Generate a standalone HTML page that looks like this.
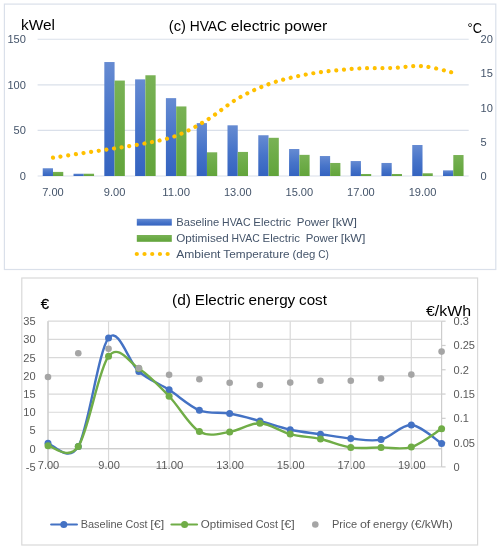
<!DOCTYPE html>
<html lang="en">
<head>
<meta charset="utf-8">
<title>HVAC electric power and electric energy cost</title>
<style>
html,body{margin:0;padding:0;background:#fff;}
body{width:499px;height:550px;overflow:hidden;font-family:"Liberation Sans",sans-serif;}
svg{display:block;}
text{font-family:"Liberation Sans",sans-serif;}
.a1{fill:#44546a;font-size:10.7px;}
.a2{fill:#595959;font-size:10.7px;}
.t{fill:#000;font-size:14.4px;}
</style>
</head>
<body>
<svg width="499" height="550" viewBox="0 0 499 550">
<defs>
<linearGradient id="gb" x1="0" y1="0" x2="0" y2="1"><stop offset="0" stop-color="#668bd2"/><stop offset="0.5" stop-color="#4774c9"/><stop offset="1" stop-color="#3463c0"/></linearGradient>
<linearGradient id="gg" x1="0" y1="0" x2="0" y2="1"><stop offset="0" stop-color="#79b255"/><stop offset="0.5" stop-color="#6cab47"/><stop offset="1" stop-color="#62a43b"/></linearGradient>
</defs>
<rect x="0" y="0" width="499" height="550" fill="#fff"/>

<g id="chart-c">
<rect x="4.4" y="4.1" width="491.4" height="265.4" fill="#fff" stroke="#dae0ea" stroke-width="1.2"/>
<line x1="37.6" y1="176" x2="468.7" y2="176" stroke="#dae0ea" stroke-width="1.2"/>
<line x1="37.6" y1="130.42" x2="468.7" y2="130.42" stroke="#dae0ea" stroke-width="1.2"/>
<line x1="37.6" y1="84.83" x2="468.7" y2="84.83" stroke="#dae0ea" stroke-width="1.2"/>
<line x1="37.6" y1="39.25" x2="468.7" y2="39.25" stroke="#dae0ea" stroke-width="1.2"/>
<rect x="42.73" y="168.25" width="10.26" height="7.75" fill="url(#gb)"/>
<rect x="53" y="171.9" width="10.26" height="4.1" fill="url(#gg)"/>
<rect x="73.52" y="173.72" width="10.26" height="2.28" fill="url(#gb)"/>
<rect x="83.79" y="173.72" width="10.26" height="2.28" fill="url(#gg)"/>
<rect x="104.32" y="62.04" width="10.26" height="113.96" fill="url(#gb)"/>
<rect x="114.58" y="80.55" width="10.26" height="95.45" fill="url(#gg)"/>
<rect x="135.11" y="79.36" width="10.26" height="96.64" fill="url(#gb)"/>
<rect x="145.38" y="75.26" width="10.26" height="100.74" fill="url(#gg)"/>
<rect x="165.9" y="98.14" width="10.26" height="77.86" fill="url(#gb)"/>
<rect x="176.17" y="106.44" width="10.26" height="69.56" fill="url(#gg)"/>
<rect x="196.7" y="123.12" width="10.26" height="52.88" fill="url(#gb)"/>
<rect x="206.96" y="152.3" width="10.26" height="23.7" fill="url(#gg)"/>
<rect x="227.49" y="125.31" width="10.26" height="50.69" fill="url(#gb)"/>
<rect x="237.75" y="151.93" width="10.26" height="24.07" fill="url(#gg)"/>
<rect x="258.28" y="135.25" width="10.26" height="40.75" fill="url(#gb)"/>
<rect x="268.55" y="137.8" width="10.26" height="38.2" fill="url(#gg)"/>
<rect x="289.07" y="149.01" width="10.26" height="26.99" fill="url(#gb)"/>
<rect x="299.34" y="154.85" width="10.26" height="21.15" fill="url(#gg)"/>
<rect x="319.87" y="156.03" width="10.26" height="19.97" fill="url(#gb)"/>
<rect x="330.13" y="162.96" width="10.26" height="13.04" fill="url(#gg)"/>
<rect x="350.66" y="161.05" width="10.26" height="14.95" fill="url(#gb)"/>
<rect x="360.93" y="173.99" width="10.26" height="2.01" fill="url(#gg)"/>
<rect x="381.45" y="162.96" width="10.26" height="13.04" fill="url(#gb)"/>
<rect x="391.72" y="173.99" width="10.26" height="2.01" fill="url(#gg)"/>
<rect x="412.25" y="145" width="10.26" height="31" fill="url(#gb)"/>
<rect x="422.51" y="173.26" width="10.26" height="2.73" fill="url(#gg)"/>
<rect x="443.04" y="170.35" width="10.26" height="5.65" fill="url(#gb)"/>
<rect x="453.3" y="155.03" width="10.26" height="20.97" fill="url(#gg)"/>
<path d="M53,157.7 C58.13,156.92 73.52,154.55 83.79,153 C94.05,151.45 104.32,150.02 114.58,148.4 C124.85,146.78 135.11,145.4 145.38,143.3 C155.64,141.2 165.9,139.68 176.17,135.8 C186.43,131.92 196.7,126.22 206.96,120 C217.22,113.78 227.49,104.47 237.75,98.5 C248.02,92.53 258.28,87.98 268.55,84.2 C278.81,80.42 289.07,78 299.34,75.8 C309.6,73.6 319.87,72.23 330.13,71 C340.4,69.77 350.66,68.9 360.93,68.4 C371.19,67.9 381.45,68.37 391.72,68 C401.98,67.63 412.25,65.42 422.51,66.2 C432.78,66.98 448.17,71.62 453.3,72.7" fill="none" stroke="#ffc000" stroke-width="4.2" stroke-linecap="round" stroke-dasharray="0.01 7.7"/>
<text class="a1" x="19.75" y="179.9" textLength="6.15" lengthAdjust="spacingAndGlyphs">0</text>
<text class="a1" x="13.59" y="134.32" textLength="12.31" lengthAdjust="spacingAndGlyphs">50</text>
<text class="a1" x="7.44" y="88.73" textLength="18.46" lengthAdjust="spacingAndGlyphs">100</text>
<text class="a1" x="7.44" y="43.15" textLength="18.46" lengthAdjust="spacingAndGlyphs">150</text>
<text class="a1" x="480.6" y="179.9" textLength="6.15" lengthAdjust="spacingAndGlyphs">0</text>
<text class="a1" x="480.6" y="145.71" textLength="6.15" lengthAdjust="spacingAndGlyphs">5</text>
<text class="a1" x="480.6" y="111.53" textLength="12.31" lengthAdjust="spacingAndGlyphs">10</text>
<text class="a1" x="480.6" y="77.34" textLength="12.31" lengthAdjust="spacingAndGlyphs">15</text>
<text class="a1" x="480.6" y="43.15" textLength="12.31" lengthAdjust="spacingAndGlyphs">20</text>
<text class="a1" x="42.23" y="195.6" textLength="21.53" lengthAdjust="spacingAndGlyphs">7.00</text>
<text class="a1" x="103.82" y="195.6" textLength="21.53" lengthAdjust="spacingAndGlyphs">9.00</text>
<text class="a1" x="162.33" y="195.6" textLength="27.68" lengthAdjust="spacingAndGlyphs">11.00</text>
<text class="a1" x="223.91" y="195.6" textLength="27.68" lengthAdjust="spacingAndGlyphs">13.00</text>
<text class="a1" x="285.5" y="195.6" textLength="27.68" lengthAdjust="spacingAndGlyphs">15.00</text>
<text class="a1" x="347.09" y="195.6" textLength="27.68" lengthAdjust="spacingAndGlyphs">17.00</text>
<text class="a1" x="408.67" y="195.6" textLength="27.68" lengthAdjust="spacingAndGlyphs">19.00</text>
<text class="t" y="30.2"><tspan x="21" textLength="34" lengthAdjust="spacingAndGlyphs">kWel</tspan></text>
<text class="t" y="30.7"><tspan x="168.8" textLength="17.11" lengthAdjust="spacingAndGlyphs">(c)</tspan> <tspan x="189.67" textLength="37.37" lengthAdjust="spacingAndGlyphs">HVAC</tspan> <tspan x="230.8" textLength="49.6" lengthAdjust="spacingAndGlyphs">electric</tspan> <tspan x="284.16" textLength="43.24" lengthAdjust="spacingAndGlyphs">power</tspan></text>
<text class="t" y="33"><tspan x="467.6" textLength="14.4" lengthAdjust="spacingAndGlyphs">°C</tspan></text>
<rect x="136.8" y="218.8" width="35" height="6.8" fill="url(#gb)"/>
<text class="a1" y="225.7"><tspan x="176.2" textLength="42.98" lengthAdjust="spacingAndGlyphs">Baseline</tspan> <tspan x="222.04" textLength="28.47" lengthAdjust="spacingAndGlyphs">HVAC</tspan> <tspan x="253.37" textLength="37.67" lengthAdjust="spacingAndGlyphs">Electric</tspan> <tspan x="296.77" textLength="32.58" lengthAdjust="spacingAndGlyphs">Power</tspan> <tspan x="332.21" textLength="24.79" lengthAdjust="spacingAndGlyphs">[kW]</tspan></text>
<rect x="136.8" y="235" width="35" height="6.8" fill="url(#gg)"/>
<text class="a1" y="241.6"><tspan x="176.2" textLength="52.53" lengthAdjust="spacingAndGlyphs">Optimised</tspan> <tspan x="231.57" textLength="28.23" lengthAdjust="spacingAndGlyphs">HVAC</tspan> <tspan x="262.64" textLength="37.35" lengthAdjust="spacingAndGlyphs">Electric</tspan> <tspan x="305.67" textLength="32.31" lengthAdjust="spacingAndGlyphs">Power</tspan> <tspan x="340.82" textLength="24.58" lengthAdjust="spacingAndGlyphs">[kW]</tspan></text>
<path d="M136.8,254 H168" fill="none" stroke="#ffc000" stroke-width="4.2" stroke-linecap="round" stroke-dasharray="0.01 7.7"/>
<text class="a1" y="257.6"><tspan x="176.2" textLength="44.29" lengthAdjust="spacingAndGlyphs">Ambient</tspan> <tspan x="223.37" textLength="66.28" lengthAdjust="spacingAndGlyphs">Temperature</tspan> <tspan x="292.52" textLength="22.86" lengthAdjust="spacingAndGlyphs">(deg</tspan> <tspan x="318.26" textLength="10.64" lengthAdjust="spacingAndGlyphs">C)</tspan></text>
</g>
<g id="chart-d">
<rect x="21.8" y="278" width="455.8" height="267" fill="#fff" stroke="#d9d9d9" stroke-width="1.2"/>
<line x1="48" y1="466.9" x2="441.6" y2="466.9" stroke="#d9d9d9" stroke-width="1.2"/>
<line x1="48" y1="448.69" x2="441.6" y2="448.69" stroke="#d9d9d9" stroke-width="1.2"/>
<line x1="48" y1="430.47" x2="441.6" y2="430.47" stroke="#d9d9d9" stroke-width="1.2"/>
<line x1="48" y1="412.26" x2="441.6" y2="412.26" stroke="#d9d9d9" stroke-width="1.2"/>
<line x1="48" y1="394.05" x2="441.6" y2="394.05" stroke="#d9d9d9" stroke-width="1.2"/>
<line x1="48" y1="375.84" x2="441.6" y2="375.84" stroke="#d9d9d9" stroke-width="1.2"/>
<line x1="48" y1="357.62" x2="441.6" y2="357.62" stroke="#d9d9d9" stroke-width="1.2"/>
<line x1="48" y1="339.41" x2="441.6" y2="339.41" stroke="#d9d9d9" stroke-width="1.2"/>
<line x1="48" y1="321.2" x2="441.6" y2="321.2" stroke="#d9d9d9" stroke-width="1.2"/>
<line x1="48" y1="321.2" x2="48" y2="466.9" stroke="#d9d9d9" stroke-width="1.2"/>
<line x1="108.55" y1="321.2" x2="108.55" y2="466.9" stroke="#d9d9d9" stroke-width="1.2"/>
<line x1="169.11" y1="321.2" x2="169.11" y2="466.9" stroke="#d9d9d9" stroke-width="1.2"/>
<line x1="229.66" y1="321.2" x2="229.66" y2="466.9" stroke="#d9d9d9" stroke-width="1.2"/>
<line x1="290.22" y1="321.2" x2="290.22" y2="466.9" stroke="#d9d9d9" stroke-width="1.2"/>
<line x1="350.77" y1="321.2" x2="350.77" y2="466.9" stroke="#d9d9d9" stroke-width="1.2"/>
<line x1="411.32" y1="321.2" x2="411.32" y2="466.9" stroke="#d9d9d9" stroke-width="1.2"/>
<line x1="48" y1="321.2" x2="48" y2="466.9" stroke="#cdcdcd" stroke-width="1.2"/>
<line x1="441.6" y1="321.2" x2="441.6" y2="466.9" stroke="#cdcdcd" stroke-width="1.2"/>
<line x1="48" y1="448.69" x2="441.6" y2="448.69" stroke="#cdcdcd" stroke-width="1.2"/>
<line x1="441.6" y1="466.9" x2="445.6" y2="466.9" stroke="#cdcdcd" stroke-width="1.2"/>
<line x1="441.6" y1="442.62" x2="445.6" y2="442.62" stroke="#cdcdcd" stroke-width="1.2"/>
<line x1="441.6" y1="418.33" x2="445.6" y2="418.33" stroke="#cdcdcd" stroke-width="1.2"/>
<line x1="441.6" y1="394.05" x2="445.6" y2="394.05" stroke="#cdcdcd" stroke-width="1.2"/>
<line x1="441.6" y1="369.77" x2="445.6" y2="369.77" stroke="#cdcdcd" stroke-width="1.2"/>
<line x1="441.6" y1="345.48" x2="445.6" y2="345.48" stroke="#cdcdcd" stroke-width="1.2"/>
<line x1="441.6" y1="321.2" x2="445.6" y2="321.2" stroke="#cdcdcd" stroke-width="1.2"/>
<path d="M48,443.33 C53.05,443.86 68.18,464.06 78.28,446.5 C88.37,428.94 98.46,350.46 108.55,337.96 C118.65,325.45 128.74,362.82 138.83,371.47 C148.92,380.12 159.02,383.4 169.11,389.86 C179.2,396.33 189.29,406.31 199.38,410.26 C209.48,414.21 219.57,411.75 229.66,413.54 C239.75,415.33 249.85,418.3 259.94,421 C270.03,423.71 280.12,427.54 290.22,429.75 C300.31,431.95 310.4,432.77 320.49,434.23 C330.58,435.68 340.68,437.6 350.77,438.49 C360.86,439.38 370.95,441.83 381.05,439.58 C391.14,437.34 401.23,424.34 411.32,425.01 C421.42,425.68 436.55,440.49 441.6,443.59" fill="none" stroke="#4472c4" stroke-width="2.4" stroke-linecap="round" stroke-linejoin="round"/>
<circle cx="48" cy="443.33" r="3.5" fill="#4472c4"/>
<circle cx="78.28" cy="446.5" r="3.5" fill="#4472c4"/>
<circle cx="108.55" cy="337.96" r="3.5" fill="#4472c4"/>
<circle cx="138.83" cy="371.47" r="3.5" fill="#4472c4"/>
<circle cx="169.11" cy="389.86" r="3.5" fill="#4472c4"/>
<circle cx="199.38" cy="410.26" r="3.5" fill="#4472c4"/>
<circle cx="229.66" cy="413.54" r="3.5" fill="#4472c4"/>
<circle cx="259.94" cy="421" r="3.5" fill="#4472c4"/>
<circle cx="290.22" cy="429.75" r="3.5" fill="#4472c4"/>
<circle cx="320.49" cy="434.23" r="3.5" fill="#4472c4"/>
<circle cx="350.77" cy="438.49" r="3.5" fill="#4472c4"/>
<circle cx="381.05" cy="439.58" r="3.5" fill="#4472c4"/>
<circle cx="411.32" cy="425.01" r="3.5" fill="#4472c4"/>
<circle cx="441.6" cy="443.59" r="3.5" fill="#4472c4"/>
<path d="M48,445.77 C53.05,445.89 68.18,461.41 78.28,446.5 C88.37,431.6 98.46,369.34 108.55,356.35 C118.65,343.36 128.74,361.9 138.83,368.55 C148.92,375.2 159.02,385.73 169.11,396.24 C179.2,406.74 189.29,425.62 199.38,431.57 C209.48,437.52 219.57,433.33 229.66,431.93 C239.75,430.54 249.85,422.83 259.94,423.19 C270.03,423.55 280.12,431.48 290.22,434.12 C300.31,436.76 310.4,436.82 320.49,439.03 C330.58,441.25 340.68,446.02 350.77,447.41 C360.86,448.81 370.95,447.47 381.05,447.41 C391.14,447.35 401.23,450.17 411.32,447.05 C421.42,443.92 436.55,431.72 441.6,428.65" fill="none" stroke="#70ad47" stroke-width="2.4" stroke-linecap="round" stroke-linejoin="round"/>
<circle cx="48" cy="445.77" r="3.5" fill="#70ad47"/>
<circle cx="78.28" cy="446.5" r="3.5" fill="#70ad47"/>
<circle cx="108.55" cy="356.35" r="3.5" fill="#70ad47"/>
<circle cx="138.83" cy="368.55" r="3.5" fill="#70ad47"/>
<circle cx="169.11" cy="396.24" r="3.5" fill="#70ad47"/>
<circle cx="199.38" cy="431.57" r="3.5" fill="#70ad47"/>
<circle cx="229.66" cy="431.93" r="3.5" fill="#70ad47"/>
<circle cx="259.94" cy="423.19" r="3.5" fill="#70ad47"/>
<circle cx="290.22" cy="434.12" r="3.5" fill="#70ad47"/>
<circle cx="320.49" cy="439.03" r="3.5" fill="#70ad47"/>
<circle cx="350.77" cy="447.41" r="3.5" fill="#70ad47"/>
<circle cx="381.05" cy="447.41" r="3.5" fill="#70ad47"/>
<circle cx="411.32" cy="447.05" r="3.5" fill="#70ad47"/>
<circle cx="441.6" cy="428.65" r="3.5" fill="#70ad47"/>
<circle cx="48" cy="377" r="3.3" fill="#a5a5a5"/>
<circle cx="78.28" cy="353.2" r="3.3" fill="#a5a5a5"/>
<circle cx="108.55" cy="348.8" r="3.3" fill="#a5a5a5"/>
<circle cx="138.83" cy="368.1" r="3.3" fill="#a5a5a5"/>
<circle cx="169.11" cy="374.7" r="3.3" fill="#a5a5a5"/>
<circle cx="199.38" cy="379.2" r="3.3" fill="#a5a5a5"/>
<circle cx="229.66" cy="382.7" r="3.3" fill="#a5a5a5"/>
<circle cx="259.94" cy="385" r="3.3" fill="#a5a5a5"/>
<circle cx="290.22" cy="382.6" r="3.3" fill="#a5a5a5"/>
<circle cx="320.49" cy="380.7" r="3.3" fill="#a5a5a5"/>
<circle cx="350.77" cy="380.7" r="3.3" fill="#a5a5a5"/>
<circle cx="381.05" cy="378.5" r="3.3" fill="#a5a5a5"/>
<circle cx="411.32" cy="374.6" r="3.3" fill="#a5a5a5"/>
<circle cx="441.6" cy="351.6" r="3.3" fill="#a5a5a5"/>
<text class="a2" x="25.83" y="470.8" textLength="9.87" lengthAdjust="spacingAndGlyphs">-5</text>
<text class="a2" x="29.55" y="452.59" textLength="6.15" lengthAdjust="spacingAndGlyphs">0</text>
<text class="a2" x="29.55" y="434.37" textLength="6.15" lengthAdjust="spacingAndGlyphs">5</text>
<text class="a2" x="23.39" y="416.16" textLength="12.31" lengthAdjust="spacingAndGlyphs">10</text>
<text class="a2" x="23.39" y="397.95" textLength="12.31" lengthAdjust="spacingAndGlyphs">15</text>
<text class="a2" x="23.39" y="379.74" textLength="12.31" lengthAdjust="spacingAndGlyphs">20</text>
<text class="a2" x="23.39" y="361.52" textLength="12.31" lengthAdjust="spacingAndGlyphs">25</text>
<text class="a2" x="23.39" y="343.31" textLength="12.31" lengthAdjust="spacingAndGlyphs">30</text>
<text class="a2" x="23.39" y="325.1" textLength="12.31" lengthAdjust="spacingAndGlyphs">35</text>
<text class="a2" x="453.5" y="470.8" textLength="6.15" lengthAdjust="spacingAndGlyphs">0</text>
<text class="a2" x="453.5" y="446.52" textLength="21.53" lengthAdjust="spacingAndGlyphs">0.05</text>
<text class="a2" x="453.5" y="422.23" textLength="15.37" lengthAdjust="spacingAndGlyphs">0.1</text>
<text class="a2" x="453.5" y="397.95" textLength="21.53" lengthAdjust="spacingAndGlyphs">0.15</text>
<text class="a2" x="453.5" y="373.67" textLength="15.37" lengthAdjust="spacingAndGlyphs">0.2</text>
<text class="a2" x="453.5" y="349.38" textLength="21.53" lengthAdjust="spacingAndGlyphs">0.25</text>
<text class="a2" x="453.5" y="325.1" textLength="15.37" lengthAdjust="spacingAndGlyphs">0.3</text>
<text class="a2" x="37.74" y="468.6" textLength="21.53" lengthAdjust="spacingAndGlyphs">7.00</text>
<text class="a2" x="98.29" y="468.6" textLength="21.53" lengthAdjust="spacingAndGlyphs">9.00</text>
<text class="a2" x="155.77" y="468.6" textLength="27.68" lengthAdjust="spacingAndGlyphs">11.00</text>
<text class="a2" x="216.32" y="468.6" textLength="27.68" lengthAdjust="spacingAndGlyphs">13.00</text>
<text class="a2" x="276.88" y="468.6" textLength="27.68" lengthAdjust="spacingAndGlyphs">15.00</text>
<text class="a2" x="337.43" y="468.6" textLength="27.68" lengthAdjust="spacingAndGlyphs">17.00</text>
<text class="a2" x="397.98" y="468.6" textLength="27.68" lengthAdjust="spacingAndGlyphs">19.00</text>
<text class="t" y="309.4" style="font-size:15px;stroke:#000;stroke-width:0.3px"><tspan x="40.8" textLength="8.3" lengthAdjust="spacingAndGlyphs">€</tspan></text>
<text class="t" y="305.2"><tspan x="172" textLength="19.01" lengthAdjust="spacingAndGlyphs">(d)</tspan> <tspan x="194.81" textLength="49.97" lengthAdjust="spacingAndGlyphs">Electric</tspan> <tspan x="248.58" textLength="46.69" lengthAdjust="spacingAndGlyphs">energy</tspan> <tspan x="299.07" textLength="27.83" lengthAdjust="spacingAndGlyphs">cost</tspan></text>
<text class="t" y="316.4" style="font-size:15px"><tspan x="426" textLength="45" lengthAdjust="spacingAndGlyphs">€/kWh</tspan></text>
<line x1="51.2" y1="524.5" x2="76.9" y2="524.5" stroke="#4472c4" stroke-width="2.2" stroke-linecap="round"/><circle cx="63.8" cy="524.5" r="3.5" fill="#4472c4"/>
<text class="a2" y="527.9"><tspan x="80.7" textLength="42.03" lengthAdjust="spacingAndGlyphs">Baseline</tspan> <tspan x="125.53" textLength="21.99" lengthAdjust="spacingAndGlyphs">Cost</tspan> <tspan x="150.33" textLength="13.87" lengthAdjust="spacingAndGlyphs">[€]</tspan></text>
<line x1="171.5" y1="524.5" x2="197" y2="524.5" stroke="#70ad47" stroke-width="2.2" stroke-linecap="round"/><circle cx="184.6" cy="524.5" r="3.5" fill="#70ad47"/>
<text class="a2" y="527.9"><tspan x="200.8" textLength="52.16" lengthAdjust="spacingAndGlyphs">Optimised</tspan> <tspan x="255.77" textLength="22.14" lengthAdjust="spacingAndGlyphs">Cost</tspan> <tspan x="280.73" textLength="13.97" lengthAdjust="spacingAndGlyphs">[€]</tspan></text>
<circle cx="315.3" cy="524.5" r="3.3" fill="#a5a5a5"/>
<text class="a2" y="527.9"><tspan x="331.9" textLength="25.19" lengthAdjust="spacingAndGlyphs">Price</tspan> <tspan x="359.91" textLength="10.4" lengthAdjust="spacingAndGlyphs">of</tspan> <tspan x="373.14" textLength="34.73" lengthAdjust="spacingAndGlyphs">energy</tspan> <tspan x="410.69" textLength="42.11" lengthAdjust="spacingAndGlyphs">(€/kWh)</tspan></text>
</g>
</svg>
</body>
</html>
